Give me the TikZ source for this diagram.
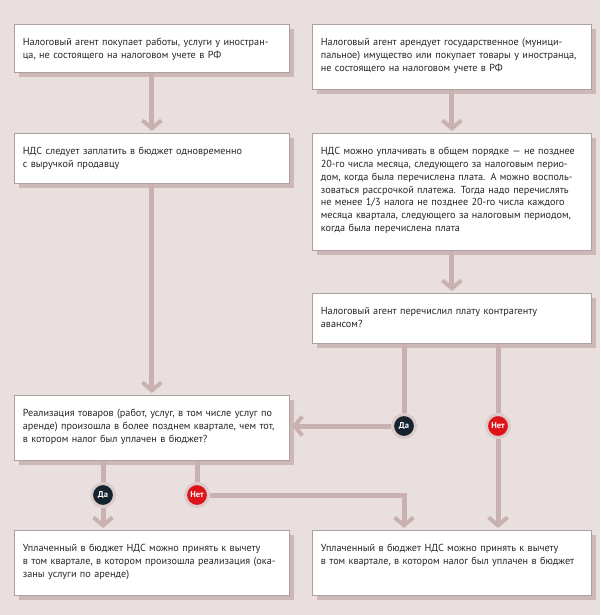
\documentclass[tikz,border=0pt]{standalone}
\usepackage{fontspec}
\setmainfont{PT Sans}
\usetikzlibrary{arrows.meta,shadows}
\definecolor{bgcol}{HTML}{EADFDF}
\definecolor{linecol}{HTML}{C9B1B1}
\definecolor{shadowcol}{HTML}{CDB7B7}
\definecolor{boxline}{HTML}{ADA0A0}
\definecolor{halo}{HTML}{DCCBCB}
\definecolor{navy}{HTML}{15232F}
\definecolor{redcol}{HTML}{DC1419}

\tikzset{every picture/.style={line width=0.75pt}}
\tikzset{
	box/.style={draw=boxline,fill=white,anchor=north west,align=left,
		inner xsep=8.5pt,inner ysep=9pt,text height=12pt,text=black!85,
		font=\fontsize{10.2}{12.9}\selectfont,
		drop shadow={shadow xshift=5pt,shadow yshift=-5pt,fill=shadowcol,opacity=1}},
	lbox/.style={box,text width=258pt},
	rbox/.style={box,text width=262pt},
	conn/.style={draw=linecol,line width=5pt},
	arr/.style={-{Straight Barb[length=8pt,width=19pt,line width=4pt]},shorten >=2pt},
	yesdot/.style={circle,fill=navy,draw=halo,line width=3pt,minimum size=23pt,
		inner sep=0pt,text=white,font=\bfseries\fontsize{8.5}{8.5}\selectfont},
	nodot/.style={yesdot,fill=redcol},
}

\begin{document}
\begin{tikzpicture}[x=1pt,y=-1pt]
	\useasboundingbox (0,0) rectangle (600,615);
	\fill[bgcol] (0,0) rectangle (600,615); %фон
	% блоки
	\node[lbox,text depth=18pt] (agentL) at (14,24) {Налоговый агент покупает работы, услуги у иностран-\\ца, не состоящего на налоговом учете в РФ};
	\node[lbox,text depth=20pt] (payNow) at (14,133) {НДС следует заплатить в бюджет одновременно\\с выручкой продавцу};
	\node[rbox,text depth=35pt] (agentR) at (312,24) {Налоговый агент арендует государственное (муници-\\пальное) имущество или покупает товары у иностранца,\\не состоящего на налоговом учете в РФ};
	\node[rbox,text depth=87pt] (payRule) at (312,133) {НДС можно уплачивать в общем порядке — не позднее\\20-го числа месяца, следующего за налоговым перио-\\дом, когда была перечислена плата. А можно восполь-\\зоваться рассрочкой платежа. Тогда надо перечислять\\не менее 1/3 налога не позднее 20-го числа каждого\\месяца квартала, следующего за налоговым периодом,\\когда была перечислена плата};
	\node[rbox,text depth=20pt] (advance) at (312,293) {Налоговый агент перечислил плату контрагенту\\авансом?};
	\node[lbox,text depth=35pt] (sale) at (14,395) {Реализация товаров (работ, услуг, в том числе услуг по\\аренде) произошла в более позднем квартале, чем тот,\\в котором налог был уплачен в бюджет?};
	\node[lbox,text depth=35pt] (deductSale) at (14,530) {Уплаченный в бюджет НДС можно принять к вычету\\в том квартале, в котором произошла реализация (ока-\\заны услуги по аренде)};
	\node[rbox,text depth=35pt] (deductPaid) at (312,530) {Уплаченный в бюджет НДС можно принять к вычету\\в том квартале, в котором налог был уплачен в бюджет};
	% да / нет
	\node[yesdot] (yesAdv) at (404,426) {Да};
	\node[nodot] (noAdv) at (498,426) {Нет};
	\node[yesdot] (yesSale) at (103,495) {Да};
	\node[nodot] (noSale) at (197,495) {Нет};
	% стрелки
	\draw[conn,arr] (agentL) -- (payNow);
	\draw[conn,arr] (payNow) -- (sale);
	\draw[conn,arr] (agentR) -- (payRule);
	\draw[conn,arr] (payRule) -- (advance);
	\draw[conn] (advance.south -| yesAdv) -- (yesAdv);
	\draw[conn,arr] (yesAdv) -- (yesAdv -| sale.east);
	\draw[conn] (advance.south -| noAdv) -- (noAdv);
	\draw[conn,arr] (noAdv) -- (noAdv |- deductPaid.north);
	\draw[conn] (sale.south -| yesSale) -- (yesSale);
	\draw[conn,arr] (yesSale) -- (yesSale |- deductSale.north);
	\draw[conn] (sale.south -| noSale) -- (noSale);
	\draw[conn,arr] (noSale) -| (yesAdv |- deductPaid.north);
\end{tikzpicture}
\end{document}
